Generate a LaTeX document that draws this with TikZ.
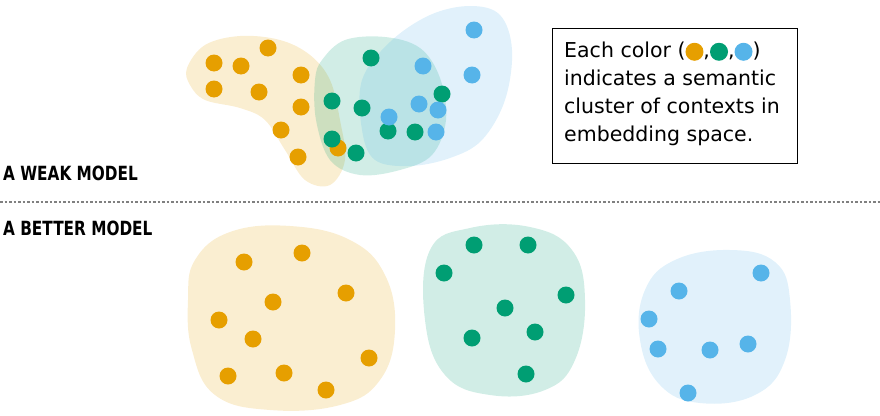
\documentclass[tikz,border=0pt]{standalone}
\usepackage{fontspec}
\setmainfont{DejaVu Sans}
\newfontfamily\labfont{DejaVu Sans Condensed}
\definecolor{cor}{HTML}{E69F00}
\definecolor{cgr}{HTML}{009E73}
\definecolor{cbl}{HTML}{56B4E9}
\begin{document}
\begin{tikzpicture}[x=1pt,y=-1pt,
  dot/.style={circle,fill=#1,minimum size=17pt,inner sep=0pt},
  blob/.style={fill=#1,fill opacity=0.18,draw=none},
  lab/.style={anchor=west,font=\labfont\bfseries\fontsize{17}{18}\selectfont,inner sep=0pt,yscale=1.15}]
\useasboundingbox (0,0) rectangle (880,415);
% weak blobs
\fill[blob=cor] plot[smooth cycle,tension=0.6] coordinates{(187,68)(205,45)(240,36)(280,40)(310,55)(330,80)(340,120)(345,160)(330,185)(305,180)(285,150)(265,120)(240,108)(205,100)(190,85)};
\fill[blob=cgr] plot[smooth cycle,tension=0.6] coordinates{(322,60)(345,40)(385,37)(420,48)(440,78)(446,120)(432,155)(400,170)(360,175)(330,160)(316,120)(315,80)};
\fill[blob=cbl] plot[smooth cycle,tension=0.6] coordinates{(362,80)(390,42)(430,15)(470,6)(500,15)(512,50)(505,100)(482,140)(450,158)(410,166)(375,160)(362,130)};
\foreach \p [count=\i] in {(214,63),(241,66),(268,48),(301,75),(214,89),(259,92),(301,107),(281,130),(298,157),(338,148)} \node[dot=cor] (wo\i) at \p {};
\foreach \p [count=\i] in {(371,58),(332,101),(362,108),(442,94),(332,139),(356,153),(388,131),(415,132)} \node[dot=cgr] (wg\i) at \p {};
\foreach \p [count=\i] in {(474,30),(423,66),(472,75),(419,104),(438,110),(389,117),(436,132)} \node[dot=cbl] (wb\i) at \p {};
% better blobs
\fill[blob=cor] plot[smooth cycle,tension=0.7] coordinates{(195,260)(230,232)(290,226)(350,240)(385,275)(395,330)(380,380)(340,405)(270,410)(215,395)(192,350)(188,300)};
\fill[blob=cgr] plot[smooth cycle,tension=0.7] coordinates{(430,250)(470,228)(530,227)(572,250)(585,300)(575,360)(545,390)(490,395)(445,375)(425,320)};
\fill[blob=cbl] plot[smooth cycle,tension=0.7] coordinates{(645,290)(675,260)(730,250)(775,262)(790,300)(785,360)(755,395)(700,403)(660,385)(640,340)};
\foreach \p [count=\i] in {(244,262),(302,253),(273,302),(346,293),(219,320),(253,339),(369,358),(228,376),(284,373),(326,390)} \node[dot=cor] (bo\i) at \p {};
\foreach \p [count=\i] in {(474,245),(528,245),(444,273),(566,295),(505,308),(535,332),(472,338),(526,374)} \node[dot=cgr] (bg\i) at \p {};
\foreach \p [count=\i] in {(761,273),(679,291),(649,319),(658,349),(710,350),(748,344),(688,393)} \node[dot=cbl] (bb\i) at \p {};
% labels
\node[lab] (weak) at (3,173) {A WEAK MODEL};
\node[lab] (better) at (3,228) {A BETTER MODEL};
\coordinate (l1) at (0,202); \coordinate (l2) at (880,202);
\draw[gray,line width=2.5pt,dash pattern=on 2.5pt off 2pt] (l1) -- (l2);
% legend
\node[draw=black,line width=0.9pt,anchor=north west,minimum width=245pt,minimum height=135pt,inner sep=0pt] (box) at (552,28) {};
\node[anchor=north west,align=left,font=\fontsize{20.5}{28}\selectfont,inner sep=0pt] (legtext) at (564,42) {Each color (\tikz[baseline=-6pt]\fill[cor] (0,0) circle (9pt);,\tikz[baseline=-6pt]\fill[cgr] (0,0) circle (9pt);,\tikz[baseline=-6pt]\fill[cbl] (0,0) circle (9pt);)\\indicates a semantic\\cluster of contexts in\\embedding space.};
\end{tikzpicture}
\end{document}
